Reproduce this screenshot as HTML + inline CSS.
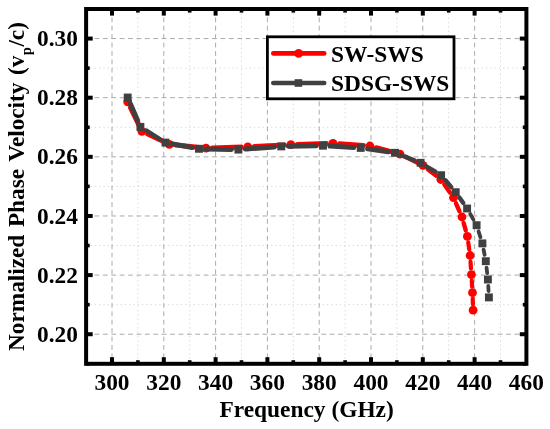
<!DOCTYPE html>
<html><head><meta charset="utf-8"><title>Normalized Phase Velocity</title>
<style>html,body{margin:0;padding:0;background:#fff;overflow:hidden}body{width:550px;height:429px}</style></head>
<body>
<svg width="550" height="429" viewBox="0 0 550 429" style="display:block" font-family="'Liberation Serif', serif" font-weight="bold" font-size="23.4px">
<rect width="550" height="429" fill="#fff"/>
<g stroke="#dcdcdc" stroke-width="1" stroke-dasharray="1.5 2.8" fill="none">
<line x1="137.90" y1="9.0" x2="137.90" y2="363.8"/>
<line x1="189.70" y1="9.0" x2="189.70" y2="363.8"/>
<line x1="241.50" y1="9.0" x2="241.50" y2="363.8"/>
<line x1="293.30" y1="9.0" x2="293.30" y2="363.8"/>
<line x1="345.10" y1="9.0" x2="345.10" y2="363.8"/>
<line x1="396.90" y1="9.0" x2="396.90" y2="363.8"/>
<line x1="448.70" y1="9.0" x2="448.70" y2="363.8"/>
<line x1="500.50" y1="9.0" x2="500.50" y2="363.8"/>
<line x1="86.1" y1="68.13" x2="526.4" y2="68.13"/>
<line x1="86.1" y1="127.27" x2="526.4" y2="127.27"/>
<line x1="86.1" y1="186.40" x2="526.4" y2="186.40"/>
<line x1="86.1" y1="245.53" x2="526.4" y2="245.53"/>
<line x1="86.1" y1="304.67" x2="526.4" y2="304.67"/>
<line x1="86.1" y1="363.80" x2="526.4" y2="363.80"/>
</g>
<g stroke="#aaaaaa" stroke-width="1" stroke-dasharray="4.8 3.6" fill="none">
<line x1="112.00" y1="9.0" x2="112.00" y2="363.8"/>
<line x1="163.80" y1="9.0" x2="163.80" y2="363.8"/>
<line x1="215.60" y1="9.0" x2="215.60" y2="363.8"/>
<line x1="267.40" y1="9.0" x2="267.40" y2="363.8"/>
<line x1="319.20" y1="9.0" x2="319.20" y2="363.8"/>
<line x1="371.00" y1="9.0" x2="371.00" y2="363.8"/>
<line x1="422.80" y1="9.0" x2="422.80" y2="363.8"/>
<line x1="474.60" y1="9.0" x2="474.60" y2="363.8"/>
<line x1="86.1" y1="38.57" x2="526.4" y2="38.57"/>
<line x1="86.1" y1="97.70" x2="526.4" y2="97.70"/>
<line x1="86.1" y1="156.83" x2="526.4" y2="156.83"/>
<line x1="86.1" y1="215.97" x2="526.4" y2="215.97"/>
<line x1="86.1" y1="275.10" x2="526.4" y2="275.10"/>
<line x1="86.1" y1="334.23" x2="526.4" y2="334.23"/>
</g>
<g stroke="#000" fill="none">
<line x1="112.00" y1="9.0" x2="112.00" y2="15.6" stroke-width="4"/>
<line x1="112.00" y1="363.8" x2="112.00" y2="357.2" stroke-width="4"/>
<line x1="163.80" y1="9.0" x2="163.80" y2="15.6" stroke-width="4"/>
<line x1="163.80" y1="363.8" x2="163.80" y2="357.2" stroke-width="4"/>
<line x1="215.60" y1="9.0" x2="215.60" y2="15.6" stroke-width="4"/>
<line x1="215.60" y1="363.8" x2="215.60" y2="357.2" stroke-width="4"/>
<line x1="267.40" y1="9.0" x2="267.40" y2="15.6" stroke-width="4"/>
<line x1="267.40" y1="363.8" x2="267.40" y2="357.2" stroke-width="4"/>
<line x1="319.20" y1="9.0" x2="319.20" y2="15.6" stroke-width="4"/>
<line x1="319.20" y1="363.8" x2="319.20" y2="357.2" stroke-width="4"/>
<line x1="371.00" y1="9.0" x2="371.00" y2="15.6" stroke-width="4"/>
<line x1="371.00" y1="363.8" x2="371.00" y2="357.2" stroke-width="4"/>
<line x1="422.80" y1="9.0" x2="422.80" y2="15.6" stroke-width="4"/>
<line x1="422.80" y1="363.8" x2="422.80" y2="357.2" stroke-width="4"/>
<line x1="474.60" y1="9.0" x2="474.60" y2="15.6" stroke-width="4"/>
<line x1="474.60" y1="363.8" x2="474.60" y2="357.2" stroke-width="4"/>
<line x1="137.90" y1="9.0" x2="137.90" y2="12.6" stroke-width="3.6"/>
<line x1="137.90" y1="363.8" x2="137.90" y2="360.2" stroke-width="3.6"/>
<line x1="189.70" y1="9.0" x2="189.70" y2="12.6" stroke-width="3.6"/>
<line x1="189.70" y1="363.8" x2="189.70" y2="360.2" stroke-width="3.6"/>
<line x1="241.50" y1="9.0" x2="241.50" y2="12.6" stroke-width="3.6"/>
<line x1="241.50" y1="363.8" x2="241.50" y2="360.2" stroke-width="3.6"/>
<line x1="293.30" y1="9.0" x2="293.30" y2="12.6" stroke-width="3.6"/>
<line x1="293.30" y1="363.8" x2="293.30" y2="360.2" stroke-width="3.6"/>
<line x1="345.10" y1="9.0" x2="345.10" y2="12.6" stroke-width="3.6"/>
<line x1="345.10" y1="363.8" x2="345.10" y2="360.2" stroke-width="3.6"/>
<line x1="396.90" y1="9.0" x2="396.90" y2="12.6" stroke-width="3.6"/>
<line x1="396.90" y1="363.8" x2="396.90" y2="360.2" stroke-width="3.6"/>
<line x1="448.70" y1="9.0" x2="448.70" y2="12.6" stroke-width="3.6"/>
<line x1="448.70" y1="363.8" x2="448.70" y2="360.2" stroke-width="3.6"/>
<line x1="500.50" y1="9.0" x2="500.50" y2="12.6" stroke-width="3.6"/>
<line x1="500.50" y1="363.8" x2="500.50" y2="360.2" stroke-width="3.6"/>
<line x1="86.1" y1="38.57" x2="92.69999999999999" y2="38.57" stroke-width="4"/>
<line x1="526.4" y1="38.57" x2="519.8" y2="38.57" stroke-width="4"/>
<line x1="86.1" y1="97.70" x2="92.69999999999999" y2="97.70" stroke-width="4"/>
<line x1="526.4" y1="97.70" x2="519.8" y2="97.70" stroke-width="4"/>
<line x1="86.1" y1="156.83" x2="92.69999999999999" y2="156.83" stroke-width="4"/>
<line x1="526.4" y1="156.83" x2="519.8" y2="156.83" stroke-width="4"/>
<line x1="86.1" y1="215.97" x2="92.69999999999999" y2="215.97" stroke-width="4"/>
<line x1="526.4" y1="215.97" x2="519.8" y2="215.97" stroke-width="4"/>
<line x1="86.1" y1="275.10" x2="92.69999999999999" y2="275.10" stroke-width="4"/>
<line x1="526.4" y1="275.10" x2="519.8" y2="275.10" stroke-width="4"/>
<line x1="86.1" y1="334.23" x2="92.69999999999999" y2="334.23" stroke-width="4"/>
<line x1="526.4" y1="334.23" x2="519.8" y2="334.23" stroke-width="4"/>
<line x1="86.1" y1="68.13" x2="89.69999999999999" y2="68.13" stroke-width="3.6"/>
<line x1="526.4" y1="68.13" x2="522.8" y2="68.13" stroke-width="3.6"/>
<line x1="86.1" y1="127.27" x2="89.69999999999999" y2="127.27" stroke-width="3.6"/>
<line x1="526.4" y1="127.27" x2="522.8" y2="127.27" stroke-width="3.6"/>
<line x1="86.1" y1="186.40" x2="89.69999999999999" y2="186.40" stroke-width="3.6"/>
<line x1="526.4" y1="186.40" x2="522.8" y2="186.40" stroke-width="3.6"/>
<line x1="86.1" y1="245.53" x2="89.69999999999999" y2="245.53" stroke-width="3.6"/>
<line x1="526.4" y1="245.53" x2="522.8" y2="245.53" stroke-width="3.6"/>
<line x1="86.1" y1="304.67" x2="89.69999999999999" y2="304.67" stroke-width="3.6"/>
<line x1="526.4" y1="304.67" x2="522.8" y2="304.67" stroke-width="3.6"/>
<line x1="86.1" y1="363.80" x2="89.69999999999999" y2="363.80" stroke-width="3.6"/>
<line x1="526.4" y1="363.80" x2="522.8" y2="363.80" stroke-width="3.6"/>
</g>
<path d="M130.52 107.66L139.08 125.44" stroke="#ff0000" stroke-width="5.0" fill="none" stroke-linecap="round"/>
<path d="M147.77 134.10L163.53 141.60" stroke="#ff0000" stroke-width="5.0" fill="none" stroke-linecap="round"/>
<path d="M175.87 145.05L199.53 147.45" stroke="#ff0000" stroke-width="5.0" fill="none" stroke-linecap="round"/>
<path d="M212.50 147.90L241.30 147.00" stroke="#ff0000" stroke-width="5.0" fill="none" stroke-linecap="round"/>
<path d="M254.29 146.47L284.41 144.93" stroke="#ff0000" stroke-width="5.0" fill="none" stroke-linecap="round"/>
<path d="M297.40 144.41L326.50 143.59" stroke="#ff0000" stroke-width="5.0" fill="none" stroke-linecap="round"/>
<path d="M339.48 143.86L363.42 145.54" stroke="#ff0000" stroke-width="5.0" fill="none" stroke-linecap="round"/>
<path d="M376.18 147.69L393.72 152.41" stroke="#ff0000" stroke-width="5.0" fill="none" stroke-linecap="round"/>
<path d="M405.56 156.83L417.44 162.67" stroke="#ff0000" stroke-width="4.4" fill="none" stroke-linecap="round"/>
<path d="M427.86 169.25L435.94 175.65" stroke="#ff0000" stroke-width="4.4" fill="none" stroke-linecap="round"/>
<path d="M444.36 184.58L449.94 192.52" stroke="#ff0000" stroke-width="4.4" fill="none" stroke-linecap="round"/>
<path d="M455.99 203.28L459.51 211.32" stroke="#ff0000" stroke-width="4.4" fill="none" stroke-linecap="round"/>
<path d="M463.66 222.97L465.74 230.43" stroke="#ff0000" stroke-width="4.4" fill="none" stroke-linecap="round"/>
<path d="M468.25 242.44L469.25 249.46" stroke="#ff0000" stroke-width="4.2" fill="none" stroke-linecap="round"/>
<path d="M470.51 261.59L470.99 268.51" stroke="#ff0000" stroke-width="4.2" fill="none" stroke-linecap="round"/>
<path d="M471.77 280.69L472.13 286.61" stroke="#ff0000" stroke-width="4.2" fill="none" stroke-linecap="round"/>
<path d="M472.71 298.80L472.89 304.10" stroke="#ff0000" stroke-width="4.2" fill="none" stroke-linecap="round"/>
<circle cx="127.70" cy="101.80" r="4.4" fill="#ff0000"/>
<circle cx="141.90" cy="131.30" r="4.4" fill="#ff0000"/>
<circle cx="169.40" cy="144.40" r="4.4" fill="#ff0000"/>
<circle cx="206.00" cy="148.10" r="4.4" fill="#ff0000"/>
<circle cx="247.80" cy="146.80" r="4.4" fill="#ff0000"/>
<circle cx="290.90" cy="144.60" r="4.4" fill="#ff0000"/>
<circle cx="333.00" cy="143.40" r="4.4" fill="#ff0000"/>
<circle cx="369.90" cy="146.00" r="4.4" fill="#ff0000"/>
<circle cx="400.00" cy="154.10" r="4.4" fill="#ff0000"/>
<circle cx="423.00" cy="165.40" r="4.4" fill="#ff0000"/>
<circle cx="440.80" cy="179.50" r="4.4" fill="#ff0000"/>
<circle cx="453.50" cy="197.60" r="4.4" fill="#ff0000"/>
<circle cx="462.00" cy="217.00" r="4.4" fill="#ff0000"/>
<circle cx="467.40" cy="236.40" r="4.4" fill="#ff0000"/>
<circle cx="470.10" cy="255.50" r="4.4" fill="#ff0000"/>
<circle cx="471.40" cy="274.60" r="4.4" fill="#ff0000"/>
<circle cx="472.50" cy="292.70" r="4.4" fill="#ff0000"/>
<circle cx="473.10" cy="310.20" r="4.4" fill="#ff0000"/>
<path d="M130.48 103.93L137.62 120.47" stroke="#404040" stroke-width="5.0" fill="none" stroke-linecap="round"/>
<path d="M146.08 130.45L159.82 139.05" stroke="#404040" stroke-width="4.4" fill="none" stroke-linecap="round"/>
<path d="M172.38 143.87L192.12 147.53" stroke="#404040" stroke-width="5.0" fill="none" stroke-linecap="round"/>
<path d="M206.00 148.94L231.40 149.46" stroke="#404040" stroke-width="5.0" fill="none" stroke-linecap="round"/>
<path d="M245.38 149.08L274.32 146.92" stroke="#404040" stroke-width="5.0" fill="none" stroke-linecap="round"/>
<path d="M288.30 146.28L316.00 145.82" stroke="#404040" stroke-width="5.0" fill="none" stroke-linecap="round"/>
<path d="M329.99 146.11L353.71 147.49" stroke="#404040" stroke-width="5.0" fill="none" stroke-linecap="round"/>
<path d="M367.63 148.89L388.07 151.81" stroke="#404040" stroke-width="5.0" fill="none" stroke-linecap="round"/>
<path d="M401.24 155.24L414.36 160.36" stroke="#404040" stroke-width="4.4" fill="none" stroke-linecap="round"/>
<path d="M426.33 166.27L435.37 171.73" stroke="#404040" stroke-width="4.4" fill="none" stroke-linecap="round"/>
<path d="M445.47 180.28L451.33 187.12" stroke="#404040" stroke-width="4.4" fill="none" stroke-linecap="round"/>
<path d="M459.54 197.69L463.26 203.01" stroke="#404040" stroke-width="4.4" fill="none" stroke-linecap="round"/>
<path d="M470.26 214.06L473.44 219.64" stroke="#404040" stroke-width="3.8" fill="none" stroke-linecap="round"/>
<path d="M478.54 231.30L480.46 237.30" stroke="#404040" stroke-width="3.8" fill="none" stroke-linecap="round"/>
<path d="M483.60 249.69L484.60 254.91" stroke="#404040" stroke-width="3.8" fill="none" stroke-linecap="round"/>
<path d="M486.53 267.56L487.17 273.14" stroke="#404040" stroke-width="3.8" fill="none" stroke-linecap="round"/>
<path d="M488.26 285.89L488.54 291.01" stroke="#404040" stroke-width="3.8" fill="none" stroke-linecap="round"/>
<rect x="123.75" y="93.55" width="7.9" height="7.9" fill="#404040"/>
<rect x="136.45" y="122.95" width="7.9" height="7.9" fill="#404040"/>
<rect x="161.55" y="138.65" width="7.9" height="7.9" fill="#404040"/>
<rect x="195.05" y="144.85" width="7.9" height="7.9" fill="#404040"/>
<rect x="234.45" y="145.65" width="7.9" height="7.9" fill="#404040"/>
<rect x="277.35" y="142.45" width="7.9" height="7.9" fill="#404040"/>
<rect x="319.05" y="141.75" width="7.9" height="7.9" fill="#404040"/>
<rect x="356.75" y="143.95" width="7.9" height="7.9" fill="#404040"/>
<rect x="391.05" y="148.85" width="7.9" height="7.9" fill="#404040"/>
<rect x="416.65" y="158.85" width="7.9" height="7.9" fill="#404040"/>
<rect x="437.15" y="171.25" width="7.9" height="7.9" fill="#404040"/>
<rect x="451.75" y="188.25" width="7.9" height="7.9" fill="#404040"/>
<rect x="463.15" y="204.55" width="7.9" height="7.9" fill="#404040"/>
<rect x="472.65" y="221.25" width="7.9" height="7.9" fill="#404040"/>
<rect x="478.45" y="239.45" width="7.9" height="7.9" fill="#404040"/>
<rect x="481.85" y="257.25" width="7.9" height="7.9" fill="#404040"/>
<rect x="483.95" y="275.55" width="7.9" height="7.9" fill="#404040"/>
<rect x="484.95" y="293.45" width="7.9" height="7.9" fill="#404040"/>
<rect x="86.1" y="9.0" width="440.30" height="354.80" fill="none" stroke="#000" stroke-width="4.0"/>
<rect x="267.4" y="36.8" width="186.6" height="62" fill="#fff" stroke="#000" stroke-width="2.8"/>
<line x1="273.3" y1="53.4" x2="324.2" y2="53.4" stroke="#ff0000" stroke-width="4.6" stroke-linecap="round"/>
<circle cx="298.6" cy="53.4" r="4.4" fill="#ff0000"/>
<line x1="273.3" y1="83" x2="324.2" y2="83" stroke="#404040" stroke-width="4.6" stroke-linecap="round"/>
<rect x="294.6" y="79.2" width="7.6" height="7.6" fill="#404040"/>
<text x="331" y="61.5">SW-SWS</text>
<text x="331" y="91.1">SDSG-SWS</text>
<text x="112.00" y="390" text-anchor="middle">300</text>
<text x="163.80" y="390" text-anchor="middle">320</text>
<text x="215.60" y="390" text-anchor="middle">340</text>
<text x="267.40" y="390" text-anchor="middle">360</text>
<text x="319.20" y="390" text-anchor="middle">380</text>
<text x="371.00" y="390" text-anchor="middle">400</text>
<text x="422.80" y="390" text-anchor="middle">420</text>
<text x="474.60" y="390" text-anchor="middle">440</text>
<text x="526.40" y="390" text-anchor="middle">460</text>
<text x="78" y="46.17" text-anchor="end">0.30</text>
<text x="78" y="105.30" text-anchor="end">0.28</text>
<text x="78" y="164.43" text-anchor="end">0.26</text>
<text x="78" y="223.57" text-anchor="end">0.24</text>
<text x="78" y="282.70" text-anchor="end">0.22</text>
<text x="78" y="341.83" text-anchor="end">0.20</text>
<text x="306.6" y="417" text-anchor="middle">Frequency (GHz)</text>
<text transform="translate(24.3 186.5) rotate(-90)" text-anchor="middle" font-size="23.25px" word-spacing="1.8px">Normalized Phase Velocity (v<tspan font-size="14px" dx="0.6" dy="6.2">p</tspan><tspan dx="0.6" dy="-6.7">/c)</tspan></text>
</svg>
</body></html>
